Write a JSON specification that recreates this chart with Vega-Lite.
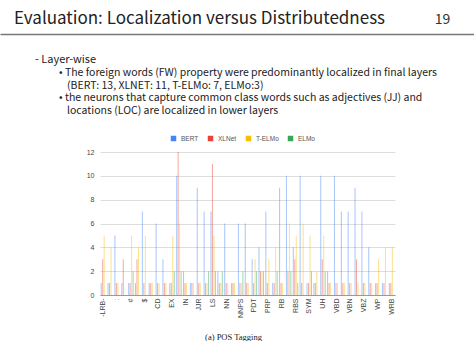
{
  "$schema": "https://vega.github.io/schema/vega-lite/v6.json",
  "padding": {"top": 10, "left": 0, "right": 0, "bottom": 0},
  "background": "white",
  "spacing": 20,
  "resolve": {"legend": {"color": "independent"}},
  "config": {"view": {"stroke": null}, "font": "Noto Sans CJK JP"},
  "vconcat": [
    {
      "width": 474,
      "height": 22,
      "title": {"text": "Evaluation: Localization versus Distributedness", "anchor": "start", "frame": "group", "dx": 14, "offset": -16, "fontSize": 17, "fontWeight": "normal", "color": "#222", "font": "Noto Sans CJK JP"},
      "data": {"values": [{"page": "19"}]},
      "mark": {"type": "text", "align": "right", "baseline": "alphabetic", "fontSize": 14, "color": "#333", "font": "Noto Sans CJK JP"},
      "encoding": {
        "text": {"field": "page"},
        "x": {"datum": 0.95, "type": "quantitative", "scale": {"domain": [0, 1]}, "axis": {"domain": true, "domainColor": "#777", "domainWidth": 1.5, "ticks": false, "labels": false, "grid": false, "title": null}},
        "y": {"datum": 0.45, "type": "quantitative", "scale": {"domain": [0, 1]}, "axis": null}
      }
    },
    {
      "spacing": 0,
      "resolve": {"legend": {"color": "independent"}},
      "hconcat": [
        {
          "width": 1,
          "height": 1,
          "data": {"values": [{"t": ""}]},
          "mark": {"type": "text"},
          "encoding": {"text": {"field": "t"}}
        },
        {
          "width": 295,
          "height": 143,
          "title": {
            "text": "- Layer-wise",
            "subtitle": [
              "\u2800\u2800\u2800• The foreign words (FW) property were predominantly localized in final layers",
              "\u2800\u2800\u2800\u2800(BERT: 13, XLNET: 11, T-ELMo: 7, ELMo:3)",
              "\u2800\u2800\u2800• the neurons that capture common class words such as adjectives (JJ) and",
              "\u2800\u2800\u2800\u2800locations (LOC) are localized in lower layers"
            ],
            "anchor": "start",
            "frame": "group",
            "dx": -65,
            "offset": 19,
            "font": "Noto Sans CJK JP",
            "fontSize": 11,
            "fontWeight": "normal",
            "color": "#222",
            "subtitleFont": "Noto Sans CJK JP",
            "subtitleFontSize": 10.5,
            "subtitleColor": "#222",
            "subtitlePadding": 3,
            "subtitleLineHeight": 12.5
          },
          "data": {"values": [
            {"tag": "-LRB-", "BERT": 1, "XLNet": 3, "T-ELMo": 5, "ELMo": 0},
            {"tag": "-RRB-", "BERT": 1, "XLNet": 1, "T-ELMo": 4, "ELMo": 0},
            {"tag": ":", "BERT": 5, "XLNet": 1, "T-ELMo": 1, "ELMo": 0},
            {"tag": ",", "BERT": 1, "XLNet": 3, "T-ELMo": 0, "ELMo": 0},
            {"tag": "#", "BERT": 1, "XLNet": 1, "T-ELMo": 5, "ELMo": 2},
            {"tag": ".", "BERT": 1, "XLNet": 3, "T-ELMo": 4, "ELMo": 0},
            {"tag": "$", "BERT": 7, "XLNet": 1, "T-ELMo": 5, "ELMo": 0},
            {"tag": "CC", "BERT": 1, "XLNet": 1, "T-ELMo": 1, "ELMo": 0},
            {"tag": "CD", "BERT": 6, "XLNet": 1, "T-ELMo": 1, "ELMo": 0},
            {"tag": "DT", "BERT": 3, "XLNet": 1, "T-ELMo": 1, "ELMo": 0},
            {"tag": "EX", "BERT": 1, "XLNet": 1, "T-ELMo": 5, "ELMo": 2},
            {"tag": "FW", "BERT": 10, "XLNet": 12, "T-ELMo": 6, "ELMo": 2},
            {"tag": "IN", "BERT": 2, "XLNet": 1, "T-ELMo": 1, "ELMo": 0},
            {"tag": "JJ", "BERT": 1, "XLNet": 1, "T-ELMo": 1, "ELMo": 0},
            {"tag": "JJR", "BERT": 9, "XLNet": 1, "T-ELMo": 1, "ELMo": 0},
            {"tag": "JJS", "BERT": 7, "XLNet": 1, "T-ELMo": 1, "ELMo": 2},
            {"tag": "LS", "BERT": 7, "XLNet": 11, "T-ELMo": 5, "ELMo": 2},
            {"tag": "MD", "BERT": 2, "XLNet": 1, "T-ELMo": 1, "ELMo": 2},
            {"tag": "NN", "BERT": 6, "XLNet": 1, "T-ELMo": 1, "ELMo": 0},
            {"tag": "NNP", "BERT": 1, "XLNet": 1, "T-ELMo": 1, "ELMo": 0},
            {"tag": "NNPS", "BERT": 6, "XLNet": 1, "T-ELMo": 1, "ELMo": 2},
            {"tag": "NNS", "BERT": 6, "XLNet": 1, "T-ELMo": 1, "ELMo": 0},
            {"tag": "PDT", "BERT": 3, "XLNet": 1, "T-ELMo": 3, "ELMo": 2},
            {"tag": "POS", "BERT": 4, "XLNet": 2, "T-ELMo": 2, "ELMo": 2},
            {"tag": "PRP", "BERT": 7, "XLNet": 1, "T-ELMo": 3, "ELMo": 0},
            {"tag": "PRP$", "BERT": 1, "XLNet": 1, "T-ELMo": 4, "ELMo": 2},
            {"tag": "RB", "BERT": 9, "XLNet": 1, "T-ELMo": 1, "ELMo": 0},
            {"tag": "RBR", "BERT": 10, "XLNet": 2, "T-ELMo": 6, "ELMo": 2},
            {"tag": "RBS", "BERT": 4, "XLNet": 3, "T-ELMo": 5, "ELMo": 1},
            {"tag": "RP", "BERT": 10, "XLNet": 1, "T-ELMo": 6, "ELMo": 0},
            {"tag": "SYM", "BERT": 1, "XLNet": 1, "T-ELMo": 5, "ELMo": 2},
            {"tag": "TO", "BERT": 1, "XLNet": 1, "T-ELMo": 2, "ELMo": 0},
            {"tag": "UH", "BERT": 10, "XLNet": 3, "T-ELMo": 5, "ELMo": 2},
            {"tag": "VB", "BERT": 2, "XLNet": 1, "T-ELMo": 1, "ELMo": 0},
            {"tag": "VBD", "BERT": 10, "XLNet": 1, "T-ELMo": 1, "ELMo": 0},
            {"tag": "VBG", "BERT": 7, "XLNet": 1, "T-ELMo": 1, "ELMo": 0},
            {"tag": "VBN", "BERT": 7, "XLNet": 1, "T-ELMo": 1, "ELMo": 0},
            {"tag": "VBP", "BERT": 9, "XLNet": 3, "T-ELMo": 1, "ELMo": 0},
            {"tag": "VBZ", "BERT": 7, "XLNet": 1, "T-ELMo": 1, "ELMo": 0},
            {"tag": "WDT", "BERT": 4, "XLNet": 1, "T-ELMo": 1, "ELMo": 0},
            {"tag": "WP", "BERT": 1, "XLNet": 1, "T-ELMo": 3, "ELMo": 0},
            {"tag": "WP$", "BERT": 1, "XLNet": 1, "T-ELMo": 4, "ELMo": 0},
            {"tag": "WRB", "BERT": 1, "XLNet": 1, "T-ELMo": 4, "ELMo": 0}
          ]},
          "transform": [{"fold": ["BERT", "XLNet", "T-ELMo", "ELMo"], "as": ["model", "value"]}],
          "mark": {"type": "bar", "opacity": 0.45},
          "encoding": {
            "x": {
              "field": "tag", "type": "nominal", "sort": null,
              "scale": {"paddingInner": 0.2, "paddingOuter": 0.1},
              "axis": {
                "values": ["-LRB-", ":", "#", "$", "CD", "EX", "IN", "JJR", "LS", "NN", "NNPS", "PDT", "PRP", "RB", "RBS", "SYM", "UH", "VBD", "VBN", "VBZ", "WP", "WRB"],
                "labelAngle": -90, "labelFontSize": 7, "labelColor": "#444", "labelFont": "Liberation Sans",
                "ticks": false, "domainColor": "#999", "labelPadding": 3,
                "title": "(a) POS Tagging", "titleFont": "Liberation Serif", "titleFontSize": 8.5, "titleFontWeight": "normal", "titleColor": "#222", "titlePadding": 15, "titleX": 133
              }
            },
            "xOffset": {"field": "model", "sort": ["BERT", "XLNet", "T-ELMo", "ELMo"], "scale": {"paddingInner": 0.3}},
            "y": {
              "field": "value", "type": "quantitative",
              "scale": {"domain": [0, 12]},
              "axis": {"values": [0, 2, 4, 6, 8, 10, 12], "title": null, "domain": false, "ticks": false, "labelFontSize": 7, "labelColor": "#444", "labelFont": "Liberation Sans", "gridColor": "#ddd", "labelPadding": 6, "minExtent": 99}
            },
            "color": {
              "field": "model", "type": "nominal",
              "scale": {"domain": ["BERT", "XLNet", "T-ELMo", "ELMo"], "range": ["#4285F4", "#EA4335", "#FBBC04", "#34A853"]},
              "legend": {"orient": "none", "legendX": 70, "legendY": -17, "direction": "horizontal", "title": null, "symbolType": "square", "symbolSize": 30, "symbolOpacity": 1, "labelFontSize": 6.5, "labelColor": "#555", "labelFont": "Liberation Sans", "columnPadding": 8}
            }
          }
        }
      ]
    }
  ]
}
